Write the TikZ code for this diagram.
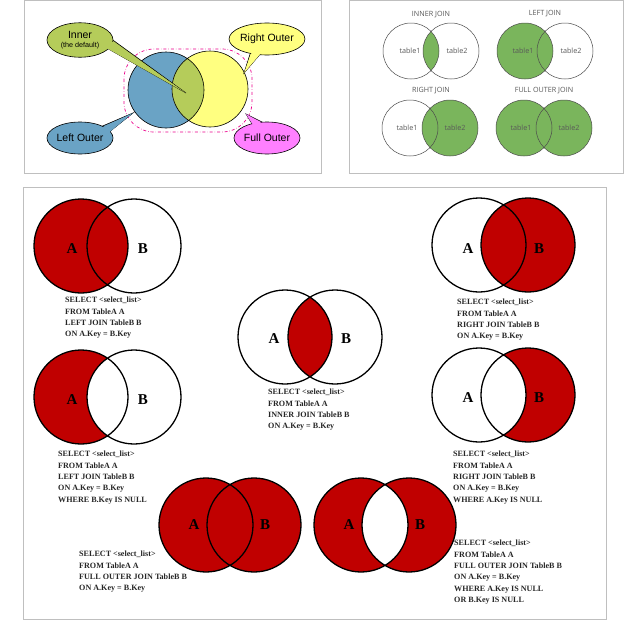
\documentclass[tikz,border=0pt]{standalone}
\usepackage{fontspec}
\setmainfont{Liberation Serif}
\newfontfamily\comic{Liberation Sans}
\newfontfamily\opsans{Open Sans}
\usetikzlibrary{shapes.geometric}
\definecolor{jred}{HTML}{C00000}
\definecolor{jgreen}{HTML}{7AB55C}
\definecolor{cblue}{HTML}{6AA3C5}
\definecolor{cyell}{HTML}{FFFF80}
\definecolor{cgreen}{HTML}{B5CC5A}
\definecolor{cmag}{HTML}{FF80FF}
\tikzset{
  panel/.style={draw=black!25, line width=0.8pt},
  vline/.style={draw=black, line width=1.3pt},
  gline/.style={draw=black!70, line width=0.5pt},
  sql/.style={anchor=north west, align=left, inner sep=0pt, font=\bfseries\fontsize{8.1}{11.3}\selectfont, text=black!85},
  ab/.style={font=\bfseries\fontsize{15}{15}\selectfont},
  gt/.style={font=\opsans\fontsize{7.2}{8}\selectfont, text=black!65},
  call/.style={font=\comic\fontsize{10.5}{11}\selectfont},
}
\newcommand\vcirc[3]{(#1,#2) circle[radius=#3]}
\begin{document}
\begin{tikzpicture}[x=1pt,y=-1pt]
\useasboundingbox (0,0) rectangle (630,640);
\fill[white] (0,0) rectangle (630,640);
% ---------- top-left panel ----------
\draw[panel] (24,0.5) rectangle (321,173);
\draw[magenta, dash dot, line width=0.7pt, rounded corners=30pt] (124,49) rectangle (252,132);
\fill[cblue] \vcirc{166}{90}{38};
\fill[cyell] \vcirc{210}{89}{38};
\begin{scope}\clip \vcirc{166}{90}{38}; \fill[cgreen] \vcirc{210}{89}{38};\end{scope}
\draw[black, line width=0.6pt] \vcirc{166}{90}{38} \vcirc{210}{89}{38};
% callouts
\coordinate (pInner) at (186,93);
\coordinate (pRight) at (244,73);
\coordinate (pLeft) at (133,113);
\coordinate (pFull) at (246,114);
\draw[fill=cgreen, line width=0.6pt] (98,43) -- (pInner) -- (110,38) -- cycle;
\node[ellipse, draw, fill=cgreen, line width=0.6pt, minimum width=66pt, minimum height=29pt, call, align=center] (inner) at (80,40) {Inner\\[-2pt]{\fontsize{7.2}{8}\selectfont (the default)}};
\fill[cgreen] (99.5,44) -- (pInner) -- (109,39.5) -- cycle;
\draw[fill=cyell, line width=0.6pt] (252,48) -- (pRight) -- (262,52) -- cycle;
\node[ellipse, draw, fill=cyell, line width=0.6pt, minimum width=66pt, minimum height=32pt, inner sep=0pt, call] (right) at (267,39) {Right Outer};
\fill[cyell] (253,49) -- (pRight) -- (261,53) -- cycle;
\draw[fill=cblue, line width=0.6pt] (98,128) -- (pLeft) -- (108,133) -- cycle;
\node[ellipse, draw, fill=cblue, line width=0.6pt, minimum width=66pt, minimum height=32pt, inner sep=0pt, call] (left) at (80,138) {Left Outer};
\fill[cblue] (99,129) -- (pLeft) -- (107,134) -- cycle;
\draw[fill=cmag, line width=0.6pt] (254,127) -- (pFull) -- (264,123) -- cycle;
\node[ellipse, draw, fill=cmag, line width=0.6pt, minimum width=66pt, minimum height=32pt, inner sep=0pt, call] (full) at (267,138) {Full Outer};
\fill[cmag] (255,128) -- (pFull) -- (263,124) -- cycle;
% ---------- top-right panel ----------
\draw[panel] (349,0.5) rectangle (623,173);
% inner join
\begin{scope}\clip \vcirc{411}{51}{28}; \fill[jgreen] \vcirc{451}{51}{28};\end{scope}
\draw[gline] \vcirc{411}{51}{28} \vcirc{451}{51}{28};
\node[gt] at (431,15) {INNER JOIN};
\node[gt] at (410,51) {table1}; \node[gt] at (457,51) {table2};
% left join
\fill[jgreen] \vcirc{525}{51}{28};
\draw[gline] \vcirc{525}{51}{28} \vcirc{565}{51}{28};
\node[gt] at (545,14) {LEFT JOIN};
\node[gt] at (523,51) {table1}; \node[gt] at (571,51) {table2};
% right join
\fill[jgreen] \vcirc{450}{128}{28};
\draw[gline] \vcirc{410}{128}{28} \vcirc{450}{128}{28};
\node[gt] at (431,91) {RIGHT JOIN};
\node[gt] at (407,128) {table1}; \node[gt] at (455,128) {table2};
% full join
\fill[jgreen] \vcirc{524}{128}{28} \vcirc{564}{128}{28};
\draw[gline] \vcirc{524}{128}{28} \vcirc{564}{128}{28};
\node[gt] at (544,91) {FULL OUTER JOIN};
\node[gt] at (521,128) {table1}; \node[gt] at (569,128) {table2};
% ---------- bottom panel ----------
\draw[panel] (23,187) rectangle (606,619);
\def\R{47}
% left join
\fill[jred] \vcirc{81}{246}{\R};
\draw[vline] \vcirc{81}{246}{\R} \vcirc{134}{246}{\R};
\node[ab] at (72,249) {A}; \node[ab] at (143,249) {B};
\node[sql] at (65,297) {SELECT <select\_list>\\FROM TableA A\\LEFT JOIN TableB B\\ON A.Key = B.Key};
% left excl
\fill[jred] \vcirc{81}{397}{\R};
\begin{scope}\clip \vcirc{81}{397}{\R}; \fill[white] \vcirc{134}{397}{\R};\end{scope}
\draw[vline] \vcirc{81}{397}{\R} \vcirc{134}{397}{\R};
\node[ab] at (72,400) {A}; \node[ab] at (143,400) {B};
\node[sql] at (58,451) {SELECT <select\_list>\\FROM TableA A\\LEFT JOIN TableB B\\ON A.Key = B.Key\\WHERE B.Key IS NULL};
% inner
\begin{scope}\clip \vcirc{285}{337}{\R}; \fill[jred] \vcirc{335}{337}{\R};\end{scope}
\draw[vline] \vcirc{285}{337}{\R} \vcirc{335}{337}{\R};
\node[ab] at (274,339) {A}; \node[ab] at (346,339) {B};
\node[sql] at (268,389) {SELECT <select\_list>\\FROM TableA A\\INNER JOIN TableB B\\ON A.Key = B.Key};
% right join
\fill[jred] \vcirc{528}{245}{\R};
\draw[vline] \vcirc{479}{245}{\R} \vcirc{528}{245}{\R};
\node[ab] at (468,249) {A}; \node[ab] at (539,249) {B};
\node[sql] at (457,299) {SELECT <select\_list>\\FROM TableA A\\RIGHT JOIN TableB B\\ON A.Key = B.Key};
% right excl
\fill[jred] \vcirc{528}{395}{\R};
\begin{scope}\clip \vcirc{528}{395}{\R}; \fill[white] \vcirc{479}{395}{\R};\end{scope}
\draw[vline] \vcirc{479}{395}{\R} \vcirc{528}{395}{\R};
\node[ab] at (468,398) {A}; \node[ab] at (539,398) {B};
\node[sql] at (453,451) {SELECT <select\_list>\\FROM TableA A\\RIGHT JOIN TableB B\\ON A.Key = B.Key\\WHERE A.Key IS NULL};
% full outer
\fill[jred] \vcirc{206}{525}{\R} \vcirc{254}{525}{\R};
\draw[vline] \vcirc{206}{525}{\R} \vcirc{254}{525}{\R};
\node[ab] at (194,525) {A}; \node[ab] at (265,525) {B};
\node[sql] at (79,551) {SELECT <select\_list>\\FROM TableA A\\FULL OUTER JOIN TableB B\\ON A.Key = B.Key};
% full excl
\fill[jred] \vcirc{361}{525}{\R} \vcirc{409}{525}{\R};
\begin{scope}\clip \vcirc{361}{525}{\R}; \fill[white] \vcirc{409}{525}{\R};\end{scope}
\draw[vline] \vcirc{361}{525}{\R} \vcirc{409}{525}{\R};
\node[ab] at (349,525) {A}; \node[ab] at (420,525) {B};
\node[sql] at (454,540) {SELECT <select\_list>\\FROM TableA A\\FULL OUTER JOIN TableB B\\ON A.Key = B.Key\\WHERE A.Key IS NULL\\OR B.Key IS NULL};
\end{tikzpicture}
\end{document}
